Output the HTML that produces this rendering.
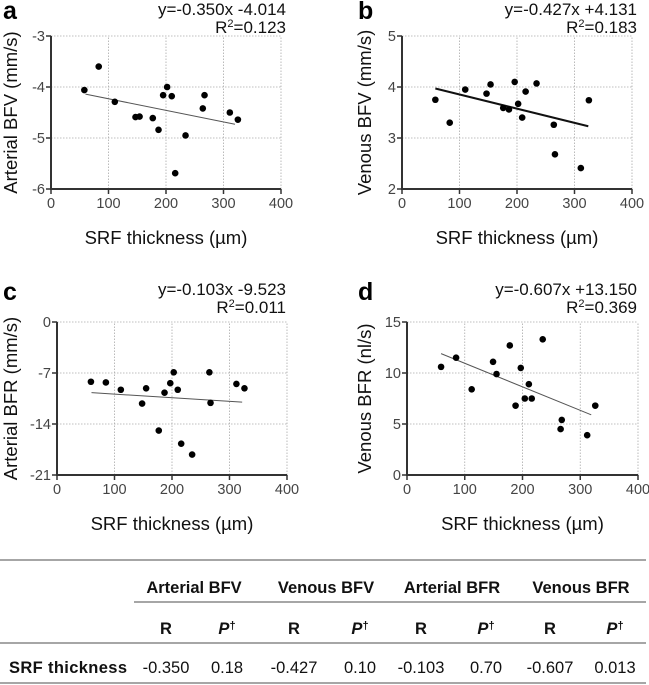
<!DOCTYPE html>
<html><head><meta charset="utf-8"><style>
body{margin:0;background:#fff;}
svg{display:block;font-family:"Liberation Sans",Arial,sans-serif;}
</style></head><body>
<svg id="fig" width="649" height="685" viewBox="0 0 649 685"></svg>
<script>
// shared x data (SRF thickness, µm)
const srfX = [58,83,111,147,154,177,187,195,202,210,216,234,264,267,311,325];
// Panel a: arterial BFV
const aY = [-4.06,-3.60,-4.29,-4.59,-4.58,-4.61,-4.84,-4.16,-4.00,-4.18,-5.69,-4.95,-4.42,-4.16,-4.50,-4.64];
const aLine = [[60,-4.14],[320,-4.73]];
const aTicks = [-6,-5,-4,-3];
// Panel b: venous BFV
const bX = [58,83,110,147,154,176,186,196,202,209,215,234,264,266,311,325];
const bY = [3.75,3.30,3.95,3.87,4.05,3.59,3.56,4.10,3.67,3.40,3.91,4.07,3.26,2.68,2.41,3.74];
const bLine = [[58,3.97],[324,3.23]];
const bTicks = [2,3,4,5];
// Panel c: arterial BFR
const cX = [59,85,111,148,155,177,187,197,203,210,216,235,265,267,312,326];
const cY = [-8.2,-8.3,-9.3,-11.2,-9.1,-14.9,-9.7,-8.4,-6.9,-9.3,-16.7,-18.2,-6.9,-11.1,-8.5,-9.1];
const cLine = [[60,-9.7],[322,-11.0]];
const cTicks = [-21,-14,-7,0];
// Panel d: venous BFR
const dX = [59,85,112,149,155,178,188,197,204,211,216,235,266,268,312,326];
const dY = [10.6,11.5,8.4,11.1,9.9,12.7,6.8,10.5,7.5,8.9,7.5,13.3,4.5,5.4,3.9,6.8];
const dLine = [[59,11.9],[319,5.9]];
const dTicks = [0,5,10,15];
const xTicks = [0,100,200,300,400];

const svg = document.getElementById('fig');
const NS = 'http://www.w3.org/2000/svg';
function mk(tag, attrs, parent){
  const e = document.createElementNS(NS, tag);
  for (const k in attrs) e.setAttribute(k, attrs[k]);
  (parent||svg).appendChild(e);
  return e;
}
function txt(s, attrs, parent){ const t = mk('text', attrs, parent); t.textContent = s; return t; }

function panel(p){
  const g = mk('g', {});
  
  
  const yMin = p.ticks[0], yMax = p.ticks[p.ticks.length-1];
  const sx = v => p.x0 + (v/400)*(p.x1 - p.x0);
  const sy = v => p.y0 - (v - yMin)/(yMax - yMin)*(p.y0 - p.y1);
  xTicks.slice(1).forEach(t=>{
    const l = mk('line',{x1:sx(t),x2:sx(t),y1:p.y0,y2:p.y1,stroke:'#aaa','stroke-width':0.8,'stroke-dasharray':'1.5,1.5'},g);
    
    
  });
  p.ticks.slice(1).forEach(t=>{
    const l = mk('line',{x1:p.x0,x2:p.x1,y1:sy(t),y2:sy(t),stroke:'#aaa','stroke-width':0.8,'stroke-dasharray':'1.5,1.5'},g);
    
    
  });
  const ax = mk('path',{d:`M${p.x0},${p.y1} V${p.y0} H${p.x1}`,fill:'none',stroke:'#333','stroke-width':2},g);
  
  
  xTicks.forEach(t=>{
    mk('line',{x1:sx(t),x2:sx(t),y1:p.y0,y2:p.y0+5,stroke:'#333','stroke-width':1.5},g);
    const lb = txt(String(t),{x:sx(t),y:p.y0+19,'text-anchor':'middle','font-size':14.5,fill:'#444'},g);
    
    
  });
  p.ticks.forEach(t=>{
    mk('line',{x1:p.x0-5,x2:p.x0,y1:sy(t),y2:sy(t),stroke:'#333','stroke-width':1.5},g);
    const lb = txt(String(t),{x:p.x0-6,y:sy(t)+5,'text-anchor':'end','font-size':14.5,fill:'#444'},g);
    
    
  });
  const rl = mk('line',{x1:sx(p.line[0][0]),y1:sy(p.line[0][1]),x2:sx(p.line[1][0]),y2:sy(p.line[1][1]),stroke:p.lw>1.5?'#111':'#555','stroke-width':p.lw},g);
  
  
  p.xs.forEach((xv,i)=>{
    const c = mk('circle',{cx:sx(xv),cy:sy(p.ys[i]),r:3.3,fill:'#000'},g);
    
    
  });
  const pl = txt(p.id,{x:p.lx,y:p.ly,'font-size':25,'font-weight':'bold',fill:'#000'},g);
  
  
  const e1 = txt(p.eq,{x:p.ex,y:p.ey,'text-anchor':'end','font-size':17,fill:'#111'},g);
  
  
  const e2 = txt('',{x:p.ex,y:p.ey+18,'text-anchor':'end','font-size':17,fill:'#111'},g);
  
  
  e2.innerHTML = 'R<tspan dy="-6" font-size="11">2</tspan><tspan dy="6">=' + p.r2 + '</tspan>';
  const yt = txt(p.ytitle,{transform:`translate(${p.ytx},${(p.y0+p.y1)/2}) rotate(-90)`,'text-anchor':'middle','font-size':18.5,fill:'#111'},g);
  
  
  const xt = txt(p.xtitle,{x:(p.x0+p.x1)/2,y:p.y0+55,'text-anchor':'middle','font-size':18.5,fill:'#111'},g);
  
  
}

panel({id:'a',x0:51,x1:281,y0:189,y1:36,ticks:aTicks,xs:srfX,ys:aY,line:aLine,lw:1,lx:3,ly:19,eq:'y=-0.350x -4.014',r2:'0.123',ex:286,ey:15,ytitle:'Arterial BFV (mm/s)',ytx:17,xtitle:'SRF thickness (\u00b5m)'});
panel({id:'b',x0:402,x1:632,y0:189,y1:36,ticks:bTicks,xs:bX,ys:bY,line:bLine,lw:2,lx:358,ly:19,eq:'y=-0.427x +4.131',r2:'0.183',ex:637,ey:15,ytitle:'Venous BFV (mm/s)',ytx:371,xtitle:'SRF thickness  (\u00b5m)'});
panel({id:'c',x0:57,x1:287,y0:475,y1:322,ticks:cTicks,xs:cX,ys:cY,line:cLine,lw:1,lx:3,ly:300,eq:'y=-0.103x -9.523',r2:'0.011',ex:286,ey:295,ytitle:'Arterial BFR (mm/s)',ytx:17,xtitle:'SRF thickness  (\u00b5m)'});
panel({id:'d',x0:407,x1:638,y0:475,y1:322,ticks:dTicks,xs:dX,ys:dY,line:dLine,lw:1,lx:358,ly:300,eq:'y=-0.607x +13.150',r2:'0.369',ex:637,ey:295,ytitle:'Venous BFR (nl/s)',ytx:371,xtitle:'SRF thickness  (\u00b5m)'});

const tg = mk('g',{});


[[0,560],[134,602],[0,643],[0,683]].forEach(([x,y])=>{
  mk('line',{x1:x,x2:646,y1:y,y2:y,stroke:'#888','stroke-width':1.6},tg);
});
const heads = [['Arterial  BFV',194],['Venous BFV',326],['Arterial  BFR',452],['Venous BFR',581]];
heads.forEach(([s,x])=>{
  const t = txt(s,{x:x,y:593,'text-anchor':'middle','font-size':16.5,'font-weight':'bold',fill:'#111'},tg);
  
  
});
const rp = [166,227,294,360,421,486,550,615];
rp.forEach((x,i)=>{
  const t = txt('',{x:x,y:634,'text-anchor':'middle','font-size':16.5,'font-weight':'bold',fill:'#111'},tg);
  
  
  if (i%2) t.innerHTML = '<tspan font-style="italic">P</tspan><tspan dy="-5" font-size="11">\u2020</tspan>';
  else t.textContent = 'R';
});
const vals = ['-0.350','0.18','-0.427','0.10','-0.103','0.70','-0.607','0.013'];
const rowL = txt('SRF thickness',{x:9,y:673,'font-size':16.5,'font-weight':'bold',fill:'#111',textLength:118},tg);


vals.forEach((v,i)=>{
  const t = txt(v,{x:rp[i],y:673,'text-anchor':'middle','font-size':16.5,fill:'#111'},tg);
  
  
});
</script>
</body></html>
